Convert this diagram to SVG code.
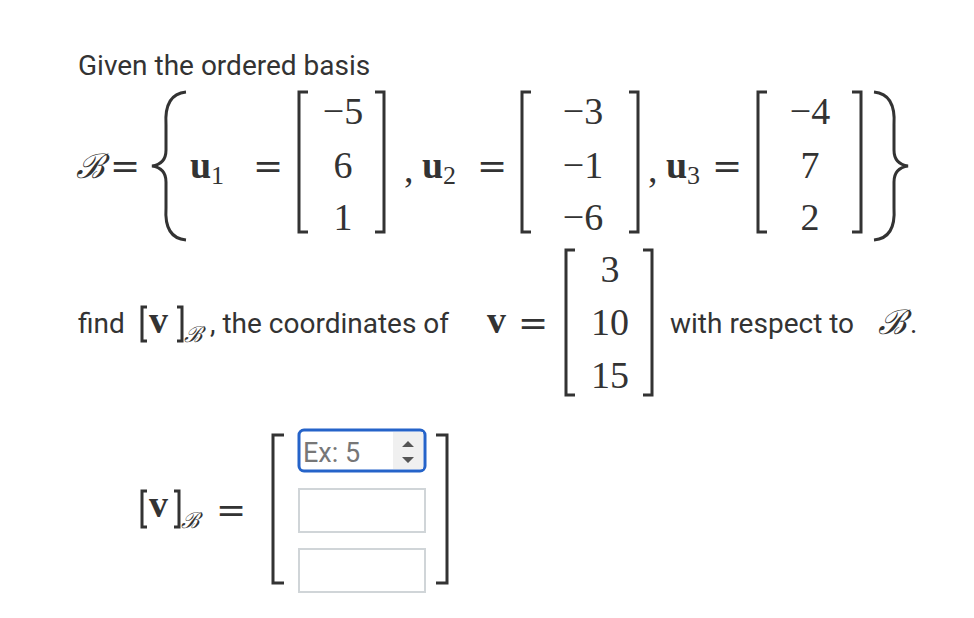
<svg xmlns="http://www.w3.org/2000/svg" width="974" height="618" viewBox="0 0 974 618">
<style>
.t{font-family:Roboto,"Liberation Sans",sans-serif;font-size:28px;fill:#333}
.m{font-family:"Liberation Serif","DejaVu Serif",serif;font-size:38px;fill:#333}
.e{font-family:"DejaVu Serif",serif;font-size:36px;fill:#333}
.s{font-family:"Liberation Serif","DejaVu Serif",serif;font-size:26px;fill:#333}
.c{text-anchor:middle}
.b{font-weight:bold}
.br{fill:none;stroke:#333;stroke-width:3}
.cal{font-family:"DejaVu Serif",serif;font-style:italic;font-size:34px;fill:#333}
.cs{font-family:"DejaVu Serif",serif;font-style:italic;font-size:22px;fill:#333}
</style>
<rect width="974" height="618" fill="#fff"/>
<text class="t" x="78" y="75">Given the ordered basis</text>
<text class="cal" x="76" y="178">ℬ</text>
<text class="e" x="110" y="178">=</text>
<path class="br" d="M186,92 Q164,94 166,125 L166,150 Q166,164 152,166 Q166,168 166,182 L166,208 Q164,238 186,240"/>
<text class="m b" x="190" y="178">u</text><text class="s" x="211" y="184">1</text>
<text class="e" x="253" y="178">=</text>
<path class="br" d="M308,92 H299 V232 H308 M375,92 H384 V232 H375"/>
<text class="m c" x="343" y="124">−5</text><text class="m c" x="343" y="178">6</text><text class="m c" x="343" y="230">1</text>
<text class="m" x="404" y="182">,</text>
<text class="m b" x="422" y="178">u</text><text class="s" x="443" y="184">2</text>
<text class="e" x="477" y="178">=</text>
<path class="br" d="M531,92 H522 V232 H531 M629,92 H638 V232 H629"/>
<text class="m c" x="583" y="124">−3</text><text class="m c" x="583" y="178">−1</text><text class="m c" x="583" y="230">−6</text>
<text class="m" x="648" y="182">,</text>
<text class="m b" x="666" y="178">u</text><text class="s" x="687" y="184">3</text>
<text class="e" x="712" y="178">=</text>
<path class="br" d="M767,92 H758 V232 H767 M852,92 H861 V232 H852"/>
<text class="m c" x="810" y="124">−4</text><text class="m c" x="810" y="178">7</text><text class="m c" x="810" y="230">2</text>
<path class="br" d="M874,92 Q896,94 894,125 L894,150 Q894,164 908,166 Q894,168 894,182 L894,208 Q896,238 874,240"/>

<text class="t" x="78" y="333">find</text>
<path class="br" d="M147,307 H142 V341 H147 M177,307 H182 V341 H177" stroke-width="1.5"/>
<text class="m b" x="149" y="333">v</text>
<text class="cs" x="184" y="342">ℬ</text>
<text class="t" x="210" y="333">, the coordinates of</text>
<text class="m b" x="487" y="333">v</text>
<text class="e" x="518" y="335">=</text>
<path class="br" d="M575,250 H566 V395 H575 M643,250 H652 V395 H643"/>
<text class="m c" x="610" y="282">3</text><text class="m c" x="610" y="335">10</text><text class="m c" x="610" y="388">15</text>
<text class="t" x="670" y="333">with respect to</text>
<text class="cal" x="878" y="334">ℬ</text><text class="t" x="910" y="333">.</text>

<path class="br" d="M147,491 H142 V527 H147 M174,491 H179 V527 H174" stroke-width="1.5"/>
<text class="m b" x="149" y="517">v</text>
<text class="cs" x="181" y="528">ℬ</text>
<text class="e" x="216" y="522">=</text>
<path class="br" d="M284,435 H273 V583 H284 M436,435 H447 V583 H436"/>
<g id="input1">
<rect x="299" y="430" width="126" height="41" rx="5" fill="#fff" stroke="#2563c9" stroke-width="3"/>
<rect x="393" y="432" width="30" height="37" fill="#f0f0f0"/>
<path d="M402,447 L408,441 L414,447 Z M402,457 L408,463 L414,457 Z" fill="#555"/>
<text x="303" y="462" font-family="Roboto,'Liberation Sans',sans-serif" font-size="27" fill="#777">Ex: 5</text>
</g>
<rect id="input2" x="299" y="489" width="126" height="43" fill="#fff" stroke="#d0d5d8" stroke-width="2"/>
<rect id="input3" x="299" y="549" width="126" height="43" fill="#fff" stroke="#d0d5d8" stroke-width="2"/>
</svg>
